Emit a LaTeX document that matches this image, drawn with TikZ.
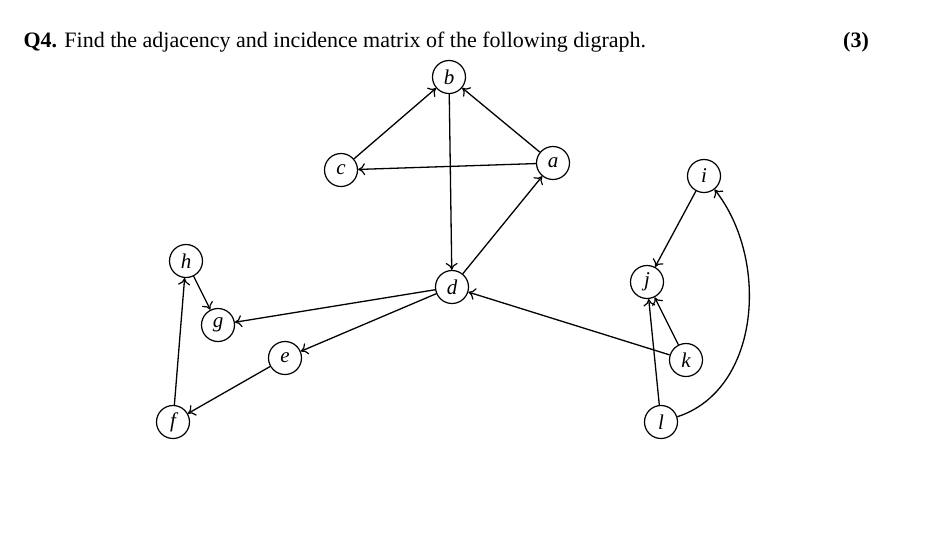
\documentclass[tikz,border=0pt]{standalone}
\usepackage{fontspec}
\setmainfont{Liberation Serif}
\usetikzlibrary{arrows.meta}
\begin{document}
\begin{tikzpicture}[x=1pt,y=-1pt,
  vx/.style={circle,draw,line width=1.2pt,minimum size=33pt,inner sep=0pt,font=\fontsize{21}{21}\selectfont\itshape},
  ed/.style={line width=1.3pt,-{To[length=7pt,width=12pt,line width=1.2pt]}}]
\useasboundingbox (0,0) rectangle (943,547);
\node[anchor=base west,font=\fontsize{22}{22}\selectfont] (title) at (20,47) {\textbf{Q4.} Find the adjacency and incidence matrix of the following digraph.};
\node[anchor=base,font=\fontsize{22}{22}\selectfont\bfseries] (pts) at (856,47) {(3)};
\node[vx] (b) at (449,77) {b};
\node[vx] (a) at (553,163) {a};
\node[vx] (c) at (341,170) {c};
\node[vx] (i) at (704,176) {i};
\node[vx] (h) at (186,261) {h};
\node[vx] (d) at (452,287) {d};
\node[vx] (j) at (647,282) {j};
\node[vx] (g) at (218,325) {g};
\node[vx] (e) at (285,358) {e};
\node[vx] (k) at (686,360) {k};
\node[vx] (f) at (173,422) {f};
\node[vx] (l) at (661,422) {l};
\draw[ed] (c) -- (b);
\draw[ed] (a) -- (b);
\draw[ed] (a) -- (c);
\draw[ed] (b) -- (d);
\draw[ed] (d) -- (a);
\draw[ed] (d) -- (g);
\draw[ed] (d) -- (e);
\draw[ed] (k) -- (d);
\draw[ed] (h) -- (g);
\draw[ed] (f) -- (h);
\draw[ed] (e) -- (f);
\draw[ed] (i) -- (j);
\draw[ed] (k) -- (j);
\draw[ed] (l) -- (j);
\draw[ed] (l) .. controls (760,390) and (770,260) .. (i);
\end{tikzpicture}
\end{document}
